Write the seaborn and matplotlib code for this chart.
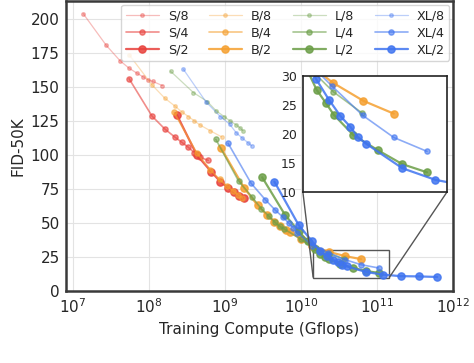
import pandas as pd
import numpy as np
import matplotlib
matplotlib.use('Agg')
import matplotlib.pyplot as plt
import seaborn as sns
from mpl_toolkits.axes_grid1.inset_locator import mark_inset

sns.set_style('whitegrid')
plt.rcParams['font.family'] = ['DejaVu Sans']

# training compute (Gflops) and FID-50K
s8_x = [1.38e7, 2.75e7, 4.17e7, 5.5e7, 6.92e7, 8.32e7, 9.77e7, 1.12e8, 1.51e8]
s8_y = [203.6, 180.6, 169.3, 163.7, 160.2, 157.5, 155.1, 154.1, 150.9]
s4_x = [5.5e7, 1.1e8, 1.62e8, 2.19e8, 2.69e8, 3.31e8, 3.98e8, 4.68e8, 6.03e8]
s4_y = [156, 128.6, 119.1, 113.2, 109.5, 105.6, 101.6, 98.2, 96.1]
s2_x = [2.34e8, 4.27e8, 6.61e8, 8.71e8, 1.1e9, 1.32e9, 1.55e9, 1.78e9]
s2_y = [129.4, 100, 87.7, 80.4, 76, 72.5, 70, 68.4]

b8_x = [5.56e7, 1.1e8, 1.62e8, 2.19e8, 2.69e8, 3.31e8, 3.98e8, 4.68e8, 6.46e8, 9.12e8]
b8_y = [173.3, 151.5, 141.7, 136, 131.8, 128.2, 125, 122.1, 117.7, 113.2]
b4_x = [2.14e8, 4.27e8, 6.46e8, 8.51e8, 1.07e9, 1.29e9, 1.48e9, 1.7e9]
b4_y = [131.5, 101.5, 89, 82, 77, 73.5, 70.8, 68.4]
b2_x = [8.91e8, 1.78e9, 2.69e9, 3.55e9, 4.47e9, 5.37e9, 6.31e9, 7.08e9, 1.0e10, 1.41e10, 2.34e10, 3.8e10, 6.17e10]
b2_y = [105, 76, 63, 56, 51, 47.5, 45, 43.5, 38.5, 33, 28.8, 25.7, 23.5]

l8_x = [1.93e8, 3.86e8, 5.89e8, 7.69e8, 9.77e8, 1.17e9, 1.41e9, 1.58e9, 1.74e9]
l8_y = [161.5, 145.8, 139.2, 132.4, 128.2, 125, 122.1, 119.9, 117.6]
l4_x = [7.59e8, 1.51e9, 2.26e9, 3.02e9, 3.8e9, 4.57e9, 5.25e9, 6.03e9, 1.0e10, 1.58e10, 2.34e10, 3.72e10]
l4_y = [111.5, 80.9, 69.3, 60.5, 55, 50.5, 47.5, 45.6, 38, 31.5, 27.3, 23.6]
l2_x = [3.09e9, 6.17e9, 9.33e9, 1.23e10, 1.55e10, 1.8e10, 2.09e10, 2.37e10, 3.24e10, 4.79e10, 7.08e10, 1.05e11]
l2_y = [83.6, 56, 44, 36.5, 31, 27.6, 25.3, 23.3, 19.8, 17.2, 14.8, 13.4]

xl8_x = [2.85e8, 5.62e8, 8.71e8, 1.15e9, 1.41e9, 1.66e9, 2.0e9, 2.26e9]
xl8_y = [162.9, 139.1, 128.2, 122.7, 116.3, 112.8, 109.1, 106.6]
xl4_x = [1.1e9, 2.21e9, 3.39e9, 4.57e9, 5.75e9, 6.92e9, 7.94e9, 8.91e9, 1.41e10, 2.29e10, 3.76e10, 6.17e10, 1.05e11]
xl4_y = [108.6, 79.2, 67.2, 59.6, 54.5, 50, 46.5, 43, 33.5, 28.3, 23.2, 19.4, 17.0]
xl2_x = [4.47e9, 9.33e9, 1.38e10, 1.78e10, 2.19e10, 2.63e10, 3.09e10, 3.47e10, 3.98e10, 7.08e10, 1.2e11, 2.04e11, 3.55e11, 6.17e11]
xl2_y = [80.4, 48.5, 37, 29.5, 25.9, 23.1, 21.2, 19.5, 18.3, 14.1, 12.1, 11, 10.8, 10.4]

series = [
    ('S/8', s8_x, s8_y), ('S/4', s4_x, s4_y), ('S/2', s2_x, s2_y),
    ('B/8', b8_x, b8_y), ('B/4', b4_x, b4_y), ('B/2', b2_x, b2_y),
    ('L/8', l8_x, l8_y), ('L/4', l4_x, l4_y), ('L/2', l2_x, l2_y),
    ('XL/8', xl8_x, xl8_y), ('XL/4', xl4_x, xl4_y), ('XL/2', xl2_x, xl2_y),
]
colors = {'S': '#e8413c', 'B': '#f5a030', 'L': '#6b9e47', 'XL': '#3f74f0'}
alphas = {'8': 0.35, '4': 0.6, '2': 0.85}
msize = {'8': 2.6, '4': 3.8, '2': 5.2}
lw = {'8': 0.9, '4': 1.2, '2': 1.6}

fig, ax = plt.subplots(figsize=(4.74, 3.63), dpi=100)
fig.subplots_adjust(left=0.139, right=0.956, top=0.997, bottom=0.198)

axins = fig.add_axes([0.639, 0.471, 0.304, 0.32])

for name, xs, ys in series:
    model, patch = name.split('/')
    df = pd.DataFrame({'x': xs, 'y': ys})
    kw = dict(color=colors[model], alpha=alphas[patch], marker='o',
              markersize=msize[patch], linewidth=lw[patch],
              markeredgecolor=colors[model], markeredgewidth=1.0, estimator=None)
    sns.lineplot(data=df, x='x', y='y', ax=ax, label=name, **kw)
    sns.lineplot(data=df, x='x', y='y', ax=axins, legend=False, **kw)

ax.set_xscale('log')
ax.set_xlim(10**6.91, 1e12)
ax.set_ylim(0, 213)
ax.set_yticks(np.arange(0, 201, 25))
ax.set_xlabel('Training Compute (Gflops)', fontsize=11)
ax.set_ylabel('FID-50K', fontsize=11)
ax.tick_params(labelsize=11, pad=1)
ax.grid(True, color='#e3e3e3', linewidth=0.8)
for sp in ax.spines.values():
    sp.set_color('#3a3a3a')
    sp.set_linewidth(1.8)

ax.legend(ncol=4, loc='upper right', fontsize=9.2, frameon=True,
          handlelength=2.6, columnspacing=1.6, labelspacing=0.3,
          borderpad=0.35, handletextpad=0.7, borderaxespad=0.3)

axins.set_xscale('log')
axins.set_xlim(10**10.16, 10**11.16)
axins.set_ylim(10, 30)
axins.set_yticks([10, 15, 20, 25, 30])
axins.set_xticks([])
axins.set_xticks([], minor=True)
axins.set_xlabel('')
axins.set_ylabel('')
axins.grid(False)
axins.set_facecolor('white')
axins.tick_params(labelsize=9, pad=1)
for sp in axins.spines.values():
    sp.set_color('#222222')
    sp.set_linewidth(1.2)

mark_inset(ax, axins, loc1=3, loc2=4, fc='none', ec='#555555', lw=1.0)

fig.savefig('out.png', dpi=100)
